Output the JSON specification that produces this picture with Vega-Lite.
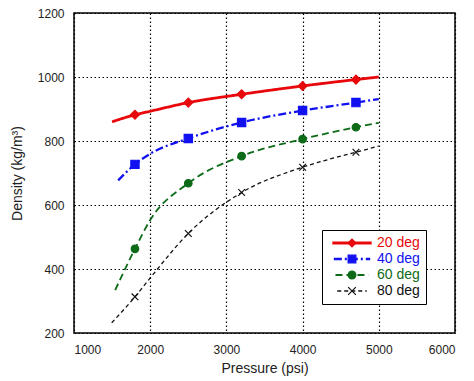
{
  "$schema": "https://vega.github.io/schema/vega-lite/v6.json",
  "width": 381,
  "height": 320,
  "autosize": "none",
  "padding": {"left": 74, "top": 13, "right": 19, "bottom": 48},
  "background": "white",
  "config": {
    "font": "Liberation Sans",
    "view": {"stroke": "black", "strokeWidth": 1.5},
    "axis": {
      "grid": true,
      "gridColor": "black",
      "gridDash": [1.5, 2.5],
      "gridOpacity": 1,
      "gridWidth": 1.2,
      "domain": false,
      "ticks": false,
      "labelFont": "Liberation Sans",
      "labelFontSize": 12,
      "labelColor": "#222",
      "titleFont": "Liberation Sans",
      "titleFontSize": 14,
      "titleFontWeight": "normal",
      "titleColor": "#222"
    }
  },
  "datasets": {
    "curves": [
      {"series": "20 deg", "p": 1500, "d": 860},
      {"series": "20 deg", "p": 1800, "d": 882},
      {"series": "20 deg", "p": 2000, "d": 893},
      {"series": "20 deg", "p": 2500, "d": 920},
      {"series": "20 deg", "p": 3200, "d": 946},
      {"series": "20 deg", "p": 4000, "d": 972},
      {"series": "20 deg", "p": 4700, "d": 992},
      {"series": "20 deg", "p": 5000, "d": 1000},
      {"series": "40 deg", "p": 1580, "d": 677},
      {"series": "40 deg", "p": 1800, "d": 727},
      {"series": "40 deg", "p": 2000, "d": 760},
      {"series": "40 deg", "p": 2500, "d": 808},
      {"series": "40 deg", "p": 3200, "d": 858},
      {"series": "40 deg", "p": 4000, "d": 895},
      {"series": "40 deg", "p": 4700, "d": 920},
      {"series": "40 deg", "p": 5000, "d": 931},
      {"series": "60 deg", "p": 1540, "d": 334},
      {"series": "60 deg", "p": 1800, "d": 463},
      {"series": "60 deg", "p": 2000, "d": 553},
      {"series": "60 deg", "p": 2500, "d": 668},
      {"series": "60 deg", "p": 3200, "d": 753},
      {"series": "60 deg", "p": 4000, "d": 806},
      {"series": "60 deg", "p": 4700, "d": 843},
      {"series": "60 deg", "p": 5000, "d": 857},
      {"series": "80 deg", "p": 1495, "d": 232},
      {"series": "80 deg", "p": 1800, "d": 313},
      {"series": "80 deg", "p": 2000, "d": 372},
      {"series": "80 deg", "p": 2500, "d": 511},
      {"series": "80 deg", "p": 3200, "d": 639},
      {"series": "80 deg", "p": 4000, "d": 718},
      {"series": "80 deg", "p": 4700, "d": 765},
      {"series": "80 deg", "p": 5000, "d": 784}
    ],
    "markers": [
      {"series": "20 deg", "p": 1800, "d": 882},
      {"series": "20 deg", "p": 2500, "d": 920},
      {"series": "20 deg", "p": 3200, "d": 946},
      {"series": "20 deg", "p": 4000, "d": 972},
      {"series": "20 deg", "p": 4700, "d": 992},
      {"series": "40 deg", "p": 1800, "d": 727},
      {"series": "40 deg", "p": 2500, "d": 808},
      {"series": "40 deg", "p": 3200, "d": 858},
      {"series": "40 deg", "p": 4000, "d": 895},
      {"series": "40 deg", "p": 4700, "d": 920},
      {"series": "60 deg", "p": 1800, "d": 463},
      {"series": "60 deg", "p": 2500, "d": 668},
      {"series": "60 deg", "p": 3200, "d": 753},
      {"series": "60 deg", "p": 4000, "d": 806},
      {"series": "60 deg", "p": 4700, "d": 843},
      {"series": "80 deg", "p": 1800, "d": 313},
      {"series": "80 deg", "p": 2500, "d": 511},
      {"series": "80 deg", "p": 3200, "d": 639},
      {"series": "80 deg", "p": 4000, "d": 718},
      {"series": "80 deg", "p": 4700, "d": 765}
    ]
  },
  "encoding": {
    "x": {
      "field": "p", "type": "quantitative",
      "scale": {"domain": [1000, 6000], "nice": false, "zero": false},
      "axis": {"values": [1000, 2000, 3000, 4000, 5000, 6000], "title": "Pressure (psi)", "labelPadding": 11, "titlePadding": 6, "format": "d"}
    },
    "y": {
      "field": "d", "type": "quantitative",
      "scale": {"domain": [200, 1200], "nice": false, "zero": false},
      "axis": {"values": [200, 400, 600, 800, 1000, 1200], "title": "Density (kg/m³)", "labelPadding": 10, "titlePadding": 13, "format": "d"}
    }
  },
  "layer": [
    {
      "data": {"name": "curves"},
      "mark": {"type": "line", "interpolate": "monotone"},
      "encoding": {
        "color": {
          "field": "series", "type": "nominal",
          "scale": {"domain": ["20 deg", "40 deg", "60 deg", "80 deg"], "range": ["#e8080c", "#1010f0", "#0d6b18", "#111111"]},
          "legend": {
            "title": null,
            "orient": "none",
            "legendX": 248,
            "legendY": 217,
            "fillColor": "white",
            "strokeColor": "black",
            "padding": 6,
            "labelFontSize": 14,
            "labelFont": "Liberation Sans",
            "rowPadding": 2,
            "symbolType": "M-4.4,0H4.4",
            "symbolSize": 64,
            "symbolOffset": 17,
            "labelOffset": 18,
            "encode": {
              "labels": {"update": {"fill": {"scale": "color", "field": "value"}}}
            }
          }
        },
        "strokeDash": {
          "field": "series", "type": "nominal",
          "scale": {"domain": ["20 deg", "40 deg", "60 deg", "80 deg"], "range": [[1, 0], [8, 3, 2, 3], [7, 4], [4, 3]]}
        },
        "strokeWidth": {
          "field": "series", "type": "nominal",
          "scale": {"domain": ["20 deg", "40 deg", "60 deg", "80 deg"], "range": [2.8, 1.3, 1.3, 1.2]}
        }
      }
    },
    {
      "data": {"name": "markers"},
      "mark": {"type": "point", "filled": true, "opacity": 1, "strokeWidth": 1.2},
      "encoding": {
        "fill": {
          "field": "series", "type": "nominal",
          "scale": {"range": ["#e8080c", "#1010f0", "#0d6b18", "#111111"]}
        },
        "stroke": {
          "field": "series", "type": "nominal",
          "scale": {"range": ["#e8080c", "#1010f0", "#0d6b18", "#111111"]}
        },
        "shape": {
          "field": "series", "type": "nominal",
          "scale": {"range": ["diamond", "square", "circle", "M-1,-1L1,1M-1,1L1,-1"]},
          "legend": {
            "title": null,
            "orient": "none",
            "legendX": 248,
            "legendY": 217,
            "padding": 6,
            "labelFontSize": 14,
            "labelFont": "Liberation Sans",
            "labelOpacity": 0,
            "rowPadding": 2,
            "symbolSize": 60,
            "symbolOffset": 17,
            "labelOffset": 18,
            "symbolStrokeWidth": 1.2
          }
        },
        "size": {
          "field": "series", "type": "nominal",
          "scale": {"domain": ["20 deg", "40 deg", "60 deg", "80 deg"], "range": [80, 45, 42, 60]},
          "legend": null
        }
      }
    }
  ]
}
